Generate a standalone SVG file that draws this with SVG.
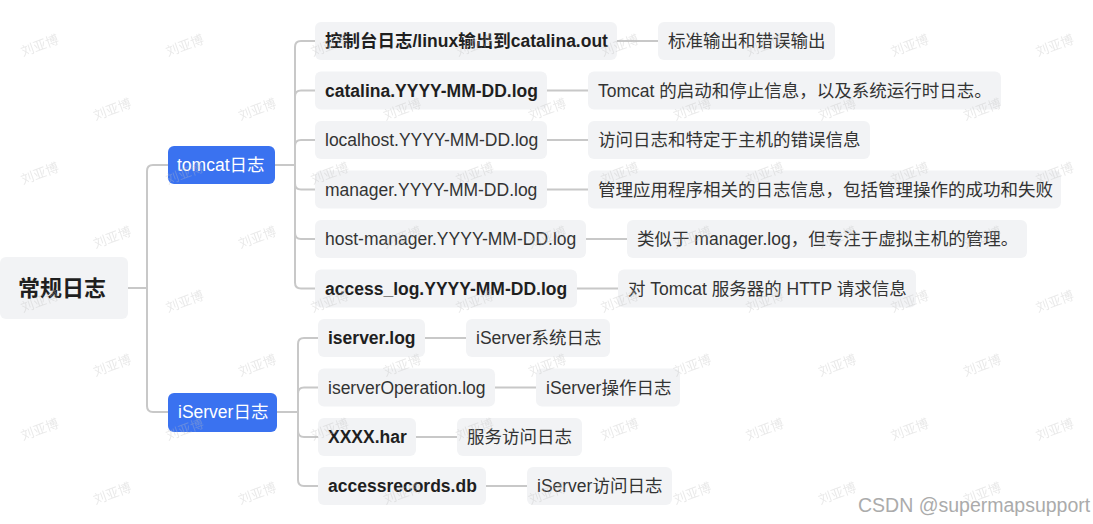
<svg xmlns="http://www.w3.org/2000/svg" width="1093" height="524" viewBox="0 0 1093 524">
<style>
text{font-family:"Liberation Sans","Noto Sans CJK SC",sans-serif;}
.leaf{fill:#f2f3f5;}
.main{fill:#3a72f0;}
.t{font-size:17.5px;fill:#333333;}
.b{font-size:17.5px;font-weight:bold;fill:#1f1f1f;}
.w{font-size:17.5px;fill:#ffffff;}
.root{font-size:22px;font-weight:bold;fill:#1f1f1f;}
.c{fill:none;stroke:#c8c8c8;stroke-width:2;}
.wm{font-size:13px;fill:#bbbbbb;opacity:0.33;}
</style>
<defs>
<pattern id="wmp" patternUnits="userSpaceOnUse" x="0" y="0" width="145" height="128">
<text class="wm" x="40" y="50" text-anchor="middle" transform="rotate(-20 40 46)">刘亚博</text>
<text class="wm" x="112.5" y="114" text-anchor="middle" transform="rotate(-20 112.5 110)">刘亚博</text>
</pattern>
</defs>
<rect width="1093" height="524" fill="#ffffff"/>
<g id="connectors">
<path class="c" d="M128 288 H147"/>
<path class="c" d="M147 288 V171 Q147 165 153 165 H168"/>
<path class="c" d="M147 288 V406 Q147 412 153 412 H168"/>
<path class="c" d="M275 165 H295"/>
<path class="c" d="M295 165 V47 Q295 41 301 41 H315"/>
<path class="c" d="M295 165 V96.5 Q295 90.5 301 90.5 H315"/>
<path class="c" d="M295 165 V146 Q295 140 301 140 H315"/>
<path class="c" d="M295 165 V183.5 Q295 189.5 301 189.5 H315"/>
<path class="c" d="M295 165 V233 Q295 239 301 239 H315"/>
<path class="c" d="M295 165 V282.5 Q295 288.5 301 288.5 H315"/>
<path class="c" d="M277 412 H298"/>
<path class="c" d="M298 412 V344 Q298 338 304 338 H318"/>
<path class="c" d="M298 412 V393.5 Q298 387.5 304 387.5 H318"/>
<path class="c" d="M298 412 V431 Q298 437 304 437 H318"/>
<path class="c" d="M298 412 V480 Q298 486 304 486 H318"/>
<path class="c" d="M617 41 H658"/>
<path class="c" d="M547 90.5 H588"/>
<path class="c" d="M547 140 H588"/>
<path class="c" d="M547 189.5 H588"/>
<path class="c" d="M586 239 H627"/>
<path class="c" d="M577 288.5 H618"/>
<path class="c" d="M425 338 H466"/>
<path class="c" d="M495 387.5 H536"/>
<path class="c" d="M416 437 H457"/>
<path class="c" d="M486 486 H527"/>
</g>
<g id="root"><rect class="leaf" x="0" y="257" width="128" height="62" rx="6"/><text class="root" x="18" y="296">常规日志</text></g>
<g id="tomcat"><rect class="main" x="168" y="146" width="107" height="38" rx="6"/><text class="w" x="177" y="171">tomcat日志</text></g>
<g id="iserver"><rect class="main" x="168" y="393" width="109" height="39" rx="6"/><text class="w" x="178" y="418">iServer日志</text></g>

<g id="t1"><rect class="leaf" x="315" y="22" width="302" height="38" rx="6"/><text class="b" x="325" y="47">控制台日志/linux输出到catalina.out</text></g>
<g id="t1d"><rect class="leaf" x="658" y="22" width="177" height="38" rx="6"/><text class="t" x="668" y="47">标准输出和错误输出</text></g>
<g id="t2"><rect class="leaf" x="315" y="71.5" width="232" height="38" rx="6"/><text class="b" x="325" y="96.5">catalina.YYYY-MM-DD.log</text></g>
<g id="t2d"><rect class="leaf" x="588" y="71.5" width="413" height="38" rx="6"/><text class="t" x="598" y="96.5">Tomcat 的启动和停止信息，以及系统运行时日志。</text></g>
<g id="t3"><rect class="leaf" x="315" y="121" width="232" height="38" rx="6"/><text class="t" x="325" y="146">localhost.YYYY-MM-DD.log</text></g>
<g id="t3d"><rect class="leaf" x="588" y="121" width="282" height="38" rx="6"/><text class="t" x="598" y="146">访问日志和特定于主机的错误信息</text></g>
<g id="t4"><rect class="leaf" x="315" y="170.5" width="232" height="38" rx="6"/><text class="t" x="325" y="195.5">manager.YYYY-MM-DD.log</text></g>
<g id="t4d"><rect class="leaf" x="588" y="170.5" width="473" height="38" rx="6"/><text class="t" x="598" y="195.5">管理应用程序相关的日志信息，包括管理操作的成功和失败</text></g>
<g id="t5"><rect class="leaf" x="315" y="220" width="271" height="38" rx="6"/><text class="t" x="325" y="245">host-manager.YYYY-MM-DD.log</text></g>
<g id="t5d"><rect class="leaf" x="627" y="220" width="400" height="38" rx="6"/><text class="t" x="637" y="245">类似于 manager.log，但专注于虚拟主机的管理。</text></g>
<g id="t6"><rect class="leaf" x="315" y="269.5" width="262" height="38" rx="6"/><text class="b" x="325" y="294.5">access_log.YYYY-MM-DD.log</text></g>
<g id="t6d"><rect class="leaf" x="618" y="269.5" width="298" height="38" rx="6"/><text class="t" x="628" y="294.5">对 Tomcat 服务器的 HTTP 请求信息</text></g>

<g id="i1"><rect class="leaf" x="318" y="319" width="107" height="38" rx="6"/><text class="b" x="328" y="344">iserver.log</text></g>
<g id="i1d"><rect class="leaf" x="466" y="319" width="144" height="38" rx="6"/><text class="t" x="476" y="344">iServer系统日志</text></g>
<g id="i2"><rect class="leaf" x="318" y="368.5" width="177" height="38" rx="6"/><text class="t" x="328" y="393.5">iserverOperation.log</text></g>
<g id="i2d"><rect class="leaf" x="536" y="368.5" width="144" height="38" rx="6"/><text class="t" x="546" y="393.5">iServer操作日志</text></g>
<g id="i3"><rect class="leaf" x="318" y="418" width="98" height="38" rx="6"/><text class="b" x="328" y="443">XXXX.har</text></g>
<g id="i3d"><rect class="leaf" x="457" y="418" width="125" height="38" rx="6"/><text class="t" x="467" y="443">服务访问日志</text></g>
<g id="i4"><rect class="leaf" x="318" y="467" width="168" height="38" rx="6"/><text class="b" x="328" y="492">accessrecords.db</text></g>
<g id="i4d"><rect class="leaf" x="527" y="467" width="145" height="38" rx="6"/><text class="t" x="537" y="492">iServer访问日志</text></g>

<rect id="watermark" width="1093" height="524" fill="url(#wmp)"/>
<text x="858" y="512" style="font-size:19.5px;fill:#ababab;">CSDN @supermapsupport</text>
</svg>
